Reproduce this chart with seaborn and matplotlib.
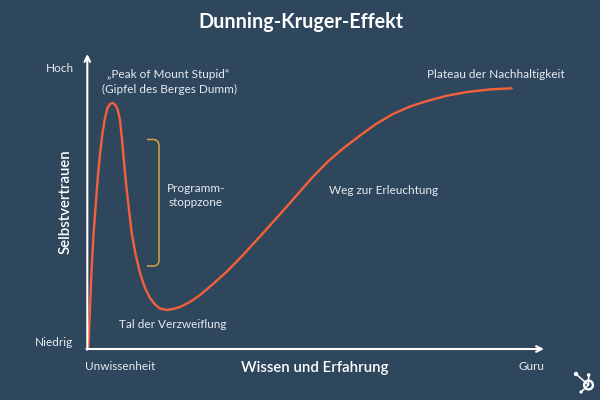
"""
Dunning-Kruger curve, drawn with seaborn on a full-figure axes
"""
import matplotlib
matplotlib.use('Agg')
import matplotlib.pyplot as plt
import seaborn as sns
import pandas as pd
from matplotlib.patches import Circle, PathPatch
from matplotlib.path import Path

BG = '#2F475D'
ORANGE = '#F4603A'
GOLD = '#D5A248'
WHITE = '#FFFFFF'
SOFT = '#E6EBF0'

# Curve, in pixels from the origin of the two arrows
wissen = [1, 2.2, 4.4, 6.2, 8.7, 10.7, 12.7, 15.2, 17.7, 20.2, 22.7, 25.4, 27.7, 30.2, 32.7,
          34.7, 37, 39, 41, 44.4, 48.2, 52.7, 57.7, 62.7, 67.7, 72.7, 79.4, 85.7, 92.7, 102.7,
          112.7, 125.7, 139.4, 155.7, 172.7, 185.7, 199.4, 212.7, 225.7, 240.7, 255.7, 272.7,
          288.7, 305.7, 322.7, 339.7, 359.7, 379.7, 402.7, 424.4]
selbstvertrauen = [2, 29, 82, 114, 148, 174, 195, 216, 231, 241, 245, 246, 244.5, 240, 229,
                   209.5, 184, 163, 145, 116, 95, 76, 61, 51, 44.5, 40.5, 39, 40, 42, 47,
                   54, 65, 77.3, 94, 112.5, 127, 142.3, 157.5, 172.3, 187.5, 200.5, 213.5,
                   225, 235, 242.5, 248, 253.3, 257, 259.6, 260.7]

# Labels: text, centre x, centre y (picture pixels)
labels = [
    ('Hoch', 59.5, 68),
    ('Niedrig', 54, 342),
    ('Unwissenheit', 120.5, 367),
    ('Guru', 531, 367),
    ('„Peak of Mount Stupid“', 168.5, 74),
    ('(Gipfel des Berges Dumm)', 170, 89),
    ('Tal der Verzweiflung', 173, 324),
    ('Programm-', 196, 189),
    ('stoppzone', 195.5, 203),
    ('Weg zur Erleuchtung', 384, 190),
    ('Plateau der Nachhaltigkeit', 496, 75),
]

ORIGIN_X = 87.3
ORIGIN_Y = 349


def to_data(x, y):
    # picture pixels to axes data
    return x - ORIGIN_X, ORIGIN_Y - y


df = pd.DataFrame({'wissen': wissen, 'selbstvertrauen': selbstvertrauen})

sns.set_style('white')
plt.rcParams['font.family'] = ['Lato', 'DejaVu Sans']

fig = plt.figure(figsize=(6, 4), dpi=100, facecolor=BG)
ax = fig.add_axes([0, 0, 1, 1])
ax.set_xlim(-ORIGIN_X, 600 - ORIGIN_X)
ax.set_ylim(ORIGIN_Y - 400, ORIGIN_Y)
ax.axis('off')

# Axes as two arrows from the origin
arrow = dict(arrowstyle='->', color=WHITE, lw=1.5, mutation_scale=10, shrinkA=0, shrinkB=0)
ax.annotate('', xy=to_data(87.3, 54), xytext=to_data(87.3, 349.7), arrowprops=arrow)
ax.annotate('', xy=to_data(544, 349), xytext=to_data(86.4, 349), arrowprops=arrow)

sns.lineplot(data=df, x='wissen', y='selbstvertrauen', color=ORANGE, linewidth=1.7, ax=ax,
             sort=False, legend=False, errorbar=None)
ax.set_xlabel('')
ax.set_ylabel('')

# Bracket around the stop zone
bracket = [(147, 139.5), (153, 139.5), (159, 139.5), (159, 146), (159, 260), (159, 266),
           (153, 266), (147, 266)]
codes = [Path.MOVETO, Path.LINETO, Path.CURVE3, Path.CURVE3, Path.LINETO, Path.CURVE3,
         Path.CURVE3, Path.LINETO]
ax.add_patch(PathPatch(Path([to_data(*p) for p in bracket], codes), fill=False,
                       edgecolor=GOLD, linewidth=1.1))

fig.text(300.5 / 600, 1 - 22 / 400, 'Dunning-Kruger-Effekt', color=WHITE, fontsize=14.2,
         fontweight='bold', ha='center', va='center')
fig.text(314.5 / 600, 1 - 368 / 400, 'Wissen und Erfahrung', color=WHITE, fontsize=10.8,
         fontweight='semibold', ha='center', va='center')
fig.text(65.5 / 600, 1 - 201.5 / 400, 'Selbstvertrauen', color=WHITE, fontsize=10.8,
         fontweight='semibold', rotation=90, ha='center', va='center')

for text, x, y in labels:
    ax.text(*to_data(x, y), text, color=SOFT, fontsize=8.5, ha='center', va='center')

# Sprocket logo, bottom right
hub = (588.5, 385)
for node, size in [((576, 374), 2.2), ((588.7, 375), 1.8), ((581, 392), 1.6)]:
    ax.plot(*zip(to_data(*hub), to_data(*node)), color=WHITE, lw=1.1, solid_capstyle='round')
    ax.add_patch(Circle(to_data(*node), size, color=WHITE, lw=0))
ax.add_patch(Circle(to_data(*hub), 4.4, facecolor=BG, edgecolor=WHITE, lw=1.7))

fig.savefig('out.png', dpi=100, facecolor=BG)
